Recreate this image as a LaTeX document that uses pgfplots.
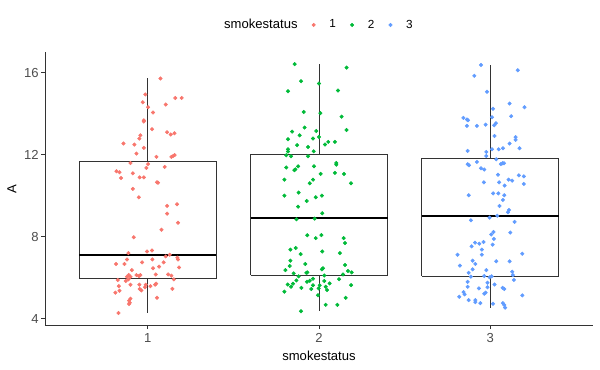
\documentclass[border=0pt]{standalone}
\usepackage{fontspec}
\setmainfont{Liberation Sans}
\usepackage{pgfplots}
\pgfplotsset{compat=1.18}
\definecolor{c1}{HTML}{F8766D}
\definecolor{c2}{HTML}{00BA38}
\definecolor{c3}{HTML}{619CFF}
\definecolor{g30}{HTML}{4D4D4D}
\definecolor{g20}{HTML}{333333}
\pgfplotsset{
  dotlegend/.style={legend image code/.code={\draw[##1] plot coordinates {(0cm,0cm)};}},
  boxline/.style={draw=g20, line width=0.7pt, line join=miter, mark=none, forget plot},
  medline/.style={draw=black, line width=1.4pt, mark=none, forget plot},
}
\begin{document}
\begin{tikzpicture}
\path[use as bounding box] (-33.75pt,-32.75pt) rectangle (416.25pt,244pt);
\begin{axis}[
  at={(0,0)}, anchor=south west,
  scale only axis, width=411pt, height=205pt,
  xmin=0.4, xmax=3.6, ymin=3.68, ymax=17.0,
  axis lines=left, axis line style={-, draw=g20, line width=0.6pt},
  xtick={1,2,3}, ytick={4,8,12,16},
  tick align=outside, major tick length=2.75pt,
  tick style={draw=g20, line width=0.6pt},
  /pgf/number format/assume math mode=true,
  ticklabel style={font=\fontsize{9.8}{11}\selectfont, text=g30},
  yticklabel style={xshift=1.5pt},
  xlabel={smokestatus}, ylabel={A},
  label style={font=\fontsize{9.8}{12}\selectfont},
  xlabel style={at={(rel axis cs:0.5,0)}, anchor=center, yshift=-22.5pt},
  ylabel style={at={(rel axis cs:0,0.5)}, anchor=center, yshift=24.75pt},
  legend style={at={(rel axis cs:0.301,1.099)}, anchor=west, draw=none, fill=none,
    font=\fontsize{8.8}{10}\selectfont, inner sep=0pt, nodes={inner sep=0pt},
    /tikz/every odd column/.append style={column sep=10.5pt},
    /tikz/every even column/.append style={column sep=10.8pt}},
  legend columns=-1,
  legend cell align=left,
]
% boxes (quartiles, medians, whiskers)
\addplot[boxline] coordinates {(0.6,5.97)(1.4,5.97)(1.4,11.67)(0.6,11.67)(0.6,5.97)};
\addplot[boxline] coordinates {(1,11.67)(1,15.71)};
\addplot[boxline] coordinates {(1,5.97)(1,4.29)};
\addplot[medline] coordinates {(0.6,7.11)(1.4,7.11)};
\addplot[boxline] coordinates {(1.6,6.13)(2.4,6.13)(2.4,12.00)(1.6,12.00)(1.6,6.13)};
\addplot[boxline] coordinates {(2,12.00)(2,16.41)};
\addplot[boxline] coordinates {(2,6.13)(2,4.40)};
\addplot[medline] coordinates {(1.6,8.89)(2.4,8.89)};
\addplot[boxline] coordinates {(2.6,6.08)(3.4,6.08)(3.4,11.82)(2.6,11.82)(2.6,6.08)};
\addplot[boxline] coordinates {(3,11.82)(3,16.37)};
\addplot[boxline] coordinates {(3,6.08)(3,4.54)};
\addplot[medline] coordinates {(2.6,9.01)(3.4,9.01)};

\addlegendimage{empty legend}
\addlegendentry{\fontsize{9.8}{12}\selectfont smokestatus}

\addplot[only marks, mark=*, mark size=1.3pt, color=c1, dotlegend]
coordinates {
(1.074,15.71)(0.986,14.93)(1.161,14.76)(1.198,14.76)(0.971,14.55)(1.105,14.44)(1.002,14.31)(1.031,14.05)
(0.977,13.67)(0.977,13.61)(1.025,13.24)(1.113,13.09)(1.134,12.98)(1.156,13.04)(0.957,12.94)(0.951,12.78)
(0.858,12.54)(0.922,12.49)(0.977,12.33)(0.934,12.05)(1.051,11.89)(1.138,11.89)(1.148,11.93)(1.157,11.98)
(0.899,11.59)(1.002,11.54)(0.992,11.35)(1.099,11.40)(0.817,11.19)(0.835,11.14)(0.913,11.09)(0.844,10.86)
(0.953,10.89)(0.977,10.89)(1.054,10.65)(1.060,10.63)(0.913,10.33)(0.948,9.92)(1.113,9.50)(1.171,9.58)
(1.113,9.12)(1.177,8.68)(1.080,8.34)(0.918,7.97)(0.887,7.20)(0.996,7.28)(1.025,7.33)(1.105,7.04)
(1.128,7.12)(0.879,6.89)(1.173,6.98)(1.177,6.89)(0.815,6.67)(0.864,6.67)(0.967,6.75)(1.027,6.89)
(1.093,6.75)(1.066,6.54)(1.183,6.50)(0.907,6.37)(1.031,6.46)(0.889,6.13)(0.934,6.13)(0.957,6.13)
(0.879,6.05)(0.899,6.05)(0.949,6.08)(1.047,6.16)(1.119,6.16)(1.138,6.10)(0.825,5.89)(0.872,5.84)
(0.887,5.92)(1.152,5.92)(0.899,5.66)(0.951,5.66)(0.988,5.66)(0.984,5.54)(1.016,5.59)(1.049,5.71)
(1.043,5.66)(0.831,5.59)(0.953,5.45)(0.963,5.38)(1.144,5.46)(0.811,5.27)(0.835,5.37)(1.054,5.02)
(0.899,4.98)(0.891,4.88)(0.895,4.78)(0.891,4.72)(0.829,4.28)
};
\addlegendentry{1}

\addplot[only marks, mark=*, mark size=1.3pt, color=c2, dotlegend]
coordinates {
(1.858,16.41)(2.161,16.24)(1.895,15.58)(2.000,15.46)(1.819,15.09)(2.111,15.12)(1.911,14.08)(2.008,14.02)
(2.132,13.85)(1.916,13.32)(1.843,13.12)(1.984,13.15)(2.161,13.20)(1.887,12.94)(2.000,12.86)(1.965,12.78)
(1.819,12.75)(2.054,12.62)(2.093,12.62)(2.035,12.49)(1.872,12.46)(1.936,12.37)(1.819,12.26)(1.819,12.15)
(1.969,12.16)(1.809,11.97)(1.837,11.92)(1.936,11.92)(2.101,11.59)(2.101,11.51)(1.878,11.43)(1.809,11.37)
(1.971,11.43)(1.856,11.24)(1.862,11.28)(2.093,11.11)(2.146,11.06)(2.010,11.06)(1.965,10.78)(1.798,10.78)
(1.946,10.60)(2.187,10.60)(1.881,10.15)(1.798,10.00)(1.981,9.92)(2.017,10.00)(1.928,9.74)(1.878,9.46)
(2.019,9.14)(1.868,8.85)(1.975,8.88)(1.932,8.07)(2.014,8.08)(1.981,7.93)(2.144,7.93)(2.152,7.69)
(1.833,7.37)(1.864,7.45)(2.019,7.28)(1.893,7.15)(2.122,7.20)(1.833,6.83)(1.920,6.67)(1.829,6.57)
(2.152,6.62)(1.804,6.37)(2.023,6.46)(2.017,6.41)(2.169,6.33)(2.191,6.26)(1.852,6.21)(1.926,6.24)
(1.932,6.26)(1.881,6.07)(2.031,6.11)(2.140,6.16)(1.965,5.95)(1.868,5.87)(1.930,5.80)(1.946,5.85)
(2.031,5.84)(2.117,5.93)(1.817,5.67)(1.848,5.71)(2.062,5.72)(1.965,5.63)(2.004,5.63)(1.837,5.56)
(1.897,5.51)(1.955,5.45)(1.998,5.48)(2.039,5.56)(2.047,5.40)(2.187,5.64)(1.798,5.32)(1.994,5.15)
(2.156,5.02)(2.039,4.68)(2.107,4.68)(1.895,4.37)
};
\addlegendentry{2}

\addplot[only marks, mark=*, mark size=1.3pt, color=c3, dotlegend]
coordinates {
(2.946,16.37)(3.161,16.11)(2.907,15.84)(2.981,15.06)(3.113,14.49)(3.200,14.31)(3.016,14.23)(2.843,13.79)
(2.864,13.71)(2.870,13.67)(3.010,13.82)(3.122,13.87)(2.864,13.40)(2.922,13.40)(2.973,13.46)(3.023,13.43)
(3.033,13.53)(3.025,12.91)(3.148,12.85)(3.148,12.72)(3.113,12.54)(2.868,12.18)(2.977,12.13)(2.977,11.93)
(3.010,12.26)(3.049,12.26)(3.074,12.31)(3.171,12.31)(3.035,11.77)(2.922,11.64)(2.868,11.53)(2.876,11.48)
(3.062,11.54)(3.072,11.58)(3.080,11.58)(2.946,11.33)(2.965,11.27)(3.045,11.02)(3.167,10.99)(3.196,10.94)
(3.107,10.78)(3.128,10.73)(2.963,10.65)(3.052,10.65)(3.084,10.49)(3.196,10.57)(2.874,10.02)(3.017,10.11)
(3.047,10.11)(3.082,10.02)(3.074,9.79)(3.054,9.50)(3.109,9.30)(3.103,9.19)(2.887,8.80)(2.996,8.93)
(3.041,9.02)(3.142,8.72)(3.019,8.23)(3.006,8.11)(3.117,8.20)(3.021,7.89)(2.911,7.71)(2.936,7.66)
(2.961,7.74)(2.891,7.53)(3.014,7.61)(2.951,7.37)(2.809,7.12)(2.951,7.12)(3.187,7.17)(2.897,6.83)
(2.913,6.67)(3.035,6.80)(3.113,6.80)(2.823,6.59)(2.897,6.41)(2.874,6.24)(2.977,6.37)(3.128,6.29)
(3.132,6.13)(2.887,6.05)(2.965,6.08)(2.996,6.02)(3.008,6.07)(3.138,5.89)(2.868,5.80)(2.984,5.76)
(3.025,5.67)(2.868,5.56)(2.934,5.48)(2.984,5.54)(3.072,5.51)(3.082,5.45)(2.844,5.30)(2.973,5.27)
(2.965,5.22)(2.850,5.19)(2.819,5.07)(2.874,4.91)(2.913,4.91)(2.913,4.81)(2.942,4.76)(3.187,5.14)
(3.016,4.73)(3.074,4.76)(3.082,4.67)(3.087,4.54)
};
\addlegendentry{3}
\end{axis}
\end{tikzpicture}
\end{document}
